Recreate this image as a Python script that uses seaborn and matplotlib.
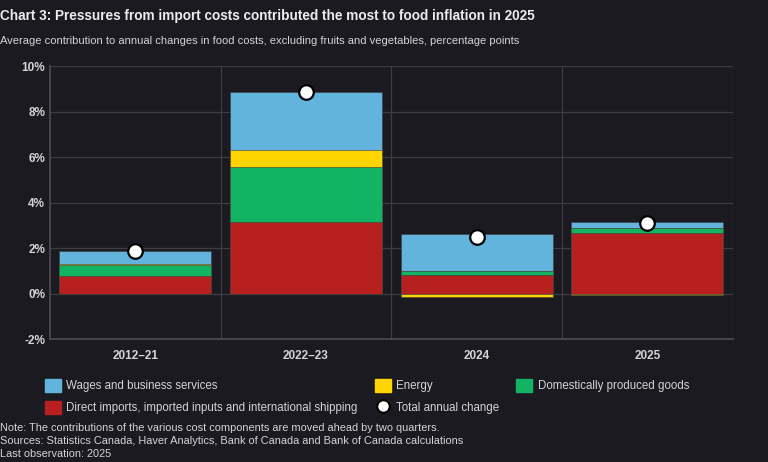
import seaborn as sns
import matplotlib.pyplot as plt
import matplotlib.patches as mpatches
from matplotlib.lines import Line2D
import numpy as np
import pandas as pd

#---------DATA
categories = ['2012\u201321', '2022\u201323', '2024', '2025']
imports = [0.77, 3.13, 0.83, 2.65]
domestic = [0.49, 2.44, 0.16, 0.23]
energy = [0.06, 0.74, -0.14, -0.05]
wages = [0.57, 2.54, 1.61, 0.27]
total = [1.89, 8.85, 2.49, 3.09]
yticks = [-2, 0, 2, 4, 6, 8, 10]

BG = '#1b1a21'
TXT = '#d4d4d4'
C_WAGES = '#63b4dc'
C_ENERGY = '#ffd400'
C_DOM = '#12b362'
C_IMP = '#b82020'

sns.set_theme(style="dark")
plt.rcParams['font.family'] = ['Liberation Sans Narrow', 'Liberation Sans', 'DejaVu Sans']

# overlay heights for stacking
imp = np.array(imports)
dom_top = imp + np.array(domestic)
en_pos = np.clip(energy, 0, None)
en_neg = np.clip(energy, None, 0)
en_top = dom_top + en_pos
wage_top = en_top + np.array(wages)

df = pd.DataFrame({'cat': categories, 'wage': wage_top, 'energy': en_top,
                   'dom': dom_top, 'imp': imp, 'en_neg': en_neg, 'total': total})

fig = plt.figure(figsize=(7.68, 4.62), dpi=100, facecolor=BG)
ax = fig.add_axes([0.065, 0.266, 0.889, 0.591], facecolor=BG)

for col, c in [('wage', C_WAGES), ('energy', C_ENERGY), ('dom', C_DOM), ('imp', C_IMP), ('en_neg', C_ENERGY)]:
    sns.barplot(x='cat', y=col, data=df, color=c, width=0.89, saturation=1,
                edgecolor='#3a3a3a', linewidth=0.4, errorbar=None, ax=ax, zorder=2)

sns.scatterplot(x='cat', y='total', data=df, s=110, color='white', edgecolor='black',
                linewidth=1.6, ax=ax, zorder=5, clip_on=False)

ax.set_ylim(-2, 10)
ax.set_xlim(-0.5, 3.5)
ax.set_yticks(yticks)
ax.set_yticklabels([f'{v}%' for v in yticks])
ax.set_xticks(range(len(categories)))
ax.set_xticklabels(categories)
ax.set_xticks([0.5, 1.5, 2.5], minor=True)
ax.set_xlabel('')
ax.set_ylabel('')
ax.grid(False)
ax.grid(axis='y', which='major', color='#3c3c42', linewidth=0.9, zorder=0)
ax.grid(axis='x', which='minor', color='#3c3c42', linewidth=0.9, zorder=0)
ax.tick_params(axis='both', which='both', length=0, colors=TXT, labelsize=8.5)
ax.tick_params(axis='x', pad=8)
for lab in ax.get_xticklabels() + ax.get_yticklabels():
    lab.set_fontweight('bold')
for side in ['top', 'right']:
    ax.spines[side].set_visible(False)
ax.spines['left'].set_color('#4a4a50')
ax.spines['bottom'].set_color('#4a4a50')
ax.axvline(3.5, color='#3c3c42', linewidth=0.9, zorder=0)

fig.text(0.0, 0.966, 'Chart 3: Pressures from import costs contributed the most to food inflation in 2025',
         color='#ececec', fontsize=9.8, fontweight='bold', va='center')
fig.text(0.0, 0.912, 'Average contribution to annual changes in food costs, excluding fruits and vegetables, percentage points',
         color=TXT, fontsize=8, va='center')

handles = [
    mpatches.FancyBboxPatch((0, 0), 1, 1, boxstyle='round,pad=0.1', color=C_WAGES, label='Wages and business services'),
    mpatches.FancyBboxPatch((0, 0), 1, 1, boxstyle='round,pad=0.1', color=C_IMP, label='Direct imports, imported inputs and international shipping'),
    mpatches.FancyBboxPatch((0, 0), 1, 1, boxstyle='round,pad=0.1', color=C_ENERGY, label='Energy'),
    Line2D([], [], marker='o', linestyle='none', markersize=9, markerfacecolor='white',
           markeredgecolor='black', markeredgewidth=1.5, label='Total annual change'),
    mpatches.FancyBboxPatch((0, 0), 1, 1, boxstyle='round,pad=0.1', color=C_DOM, label='Domestically produced goods'),
]
leg = fig.legend(handles=handles, ncol=3, loc='upper left', bbox_to_anchor=(0.052, 0.19),
                 frameon=False, fontsize=8.3, labelcolor=TXT, handlelength=1.4, handleheight=1.4,
                 handletextpad=0.45, columnspacing=1.5, labelspacing=0.75, borderaxespad=0)

notes = ['Note: The contributions of the various cost components are moved ahead by two quarters.',
         'Sources: Statistics Canada, Haver Analytics, Bank of Canada and Bank of Canada calculations',
         'Last observation: 2025']
for i, n in enumerate(notes):
    fig.text(0.0, 0.074 - i * 0.028, n, color=TXT, fontsize=7.9, va='center')

fig.savefig('out.png', dpi=100, facecolor=BG)
